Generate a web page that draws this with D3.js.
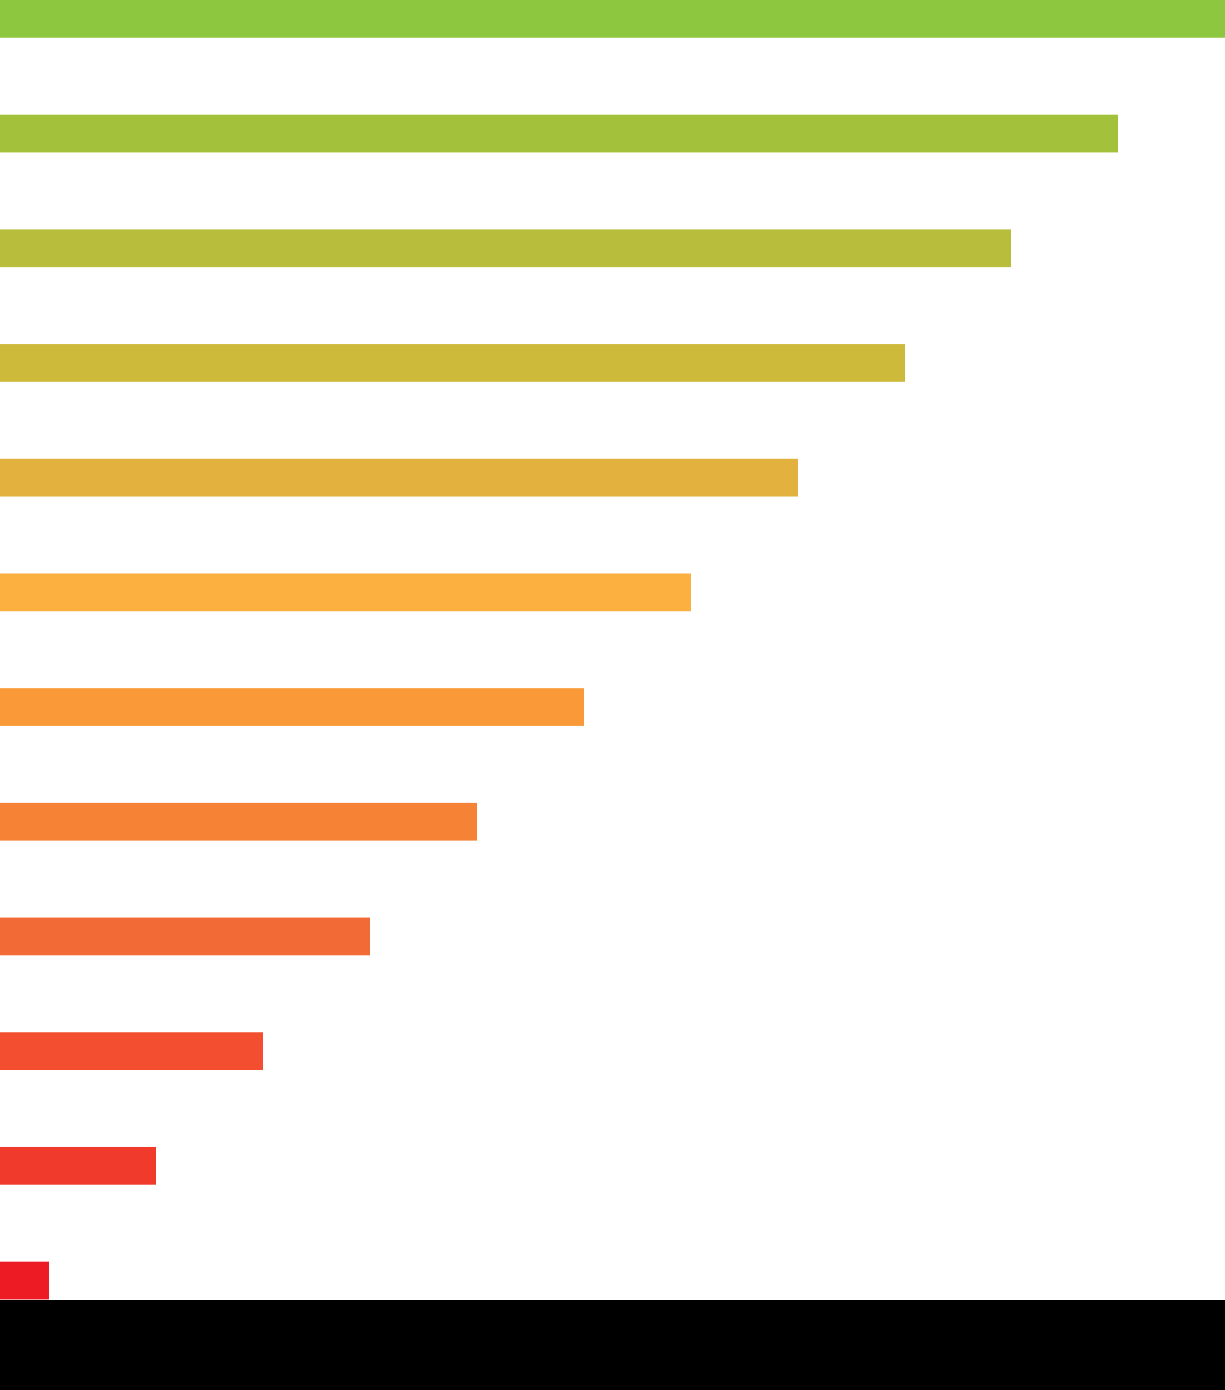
<!DOCTYPE html>
<html><head><meta charset="utf-8">
<script src="https://cdn.jsdelivr.net/npm/d3@7"></script>
<style>html,body{margin:0;padding:0;background:#fff;overflow:hidden}</style>
</head><body>
<svg id="c" width="1225" height="1390"></svg>
<script>
const categories = ["1","2","3","4","5","6","7","8","9","10","11","12"];
const values = [1225,1118,1011,905,798,691,584,477,370,263,156,49];
const colors = ["#8dc63f","#a4c13c","#b8bd3c","#cdb93a","#e3b23e","#fcb040","#f99937","#f68236","#f26a35","#f24e2f","#ef3a2c","#ed1c24"];

const svg = d3.select("#c");
const x = d3.scaleLinear().domain([0,1225]).range([0,1225]);
const y = d3.scaleBand().domain(categories).range([0,1299.4]).paddingInner(0.671).paddingOuter(0);
svg.selectAll("rect.bar").data(values).join("rect").attr("class","bar")
  .attr("x",x(0)).attr("y",(d,i)=>y(categories[i]))
  .attr("width",d=>x(d)-x(0)).attr("height",y.bandwidth())
  .attr("fill",(d,i)=>colors[i]);
svg.append("rect").attr("x",0).attr("y",1300).attr("width",1225).attr("height",90).attr("fill","#000");
</script>
</body></html>
